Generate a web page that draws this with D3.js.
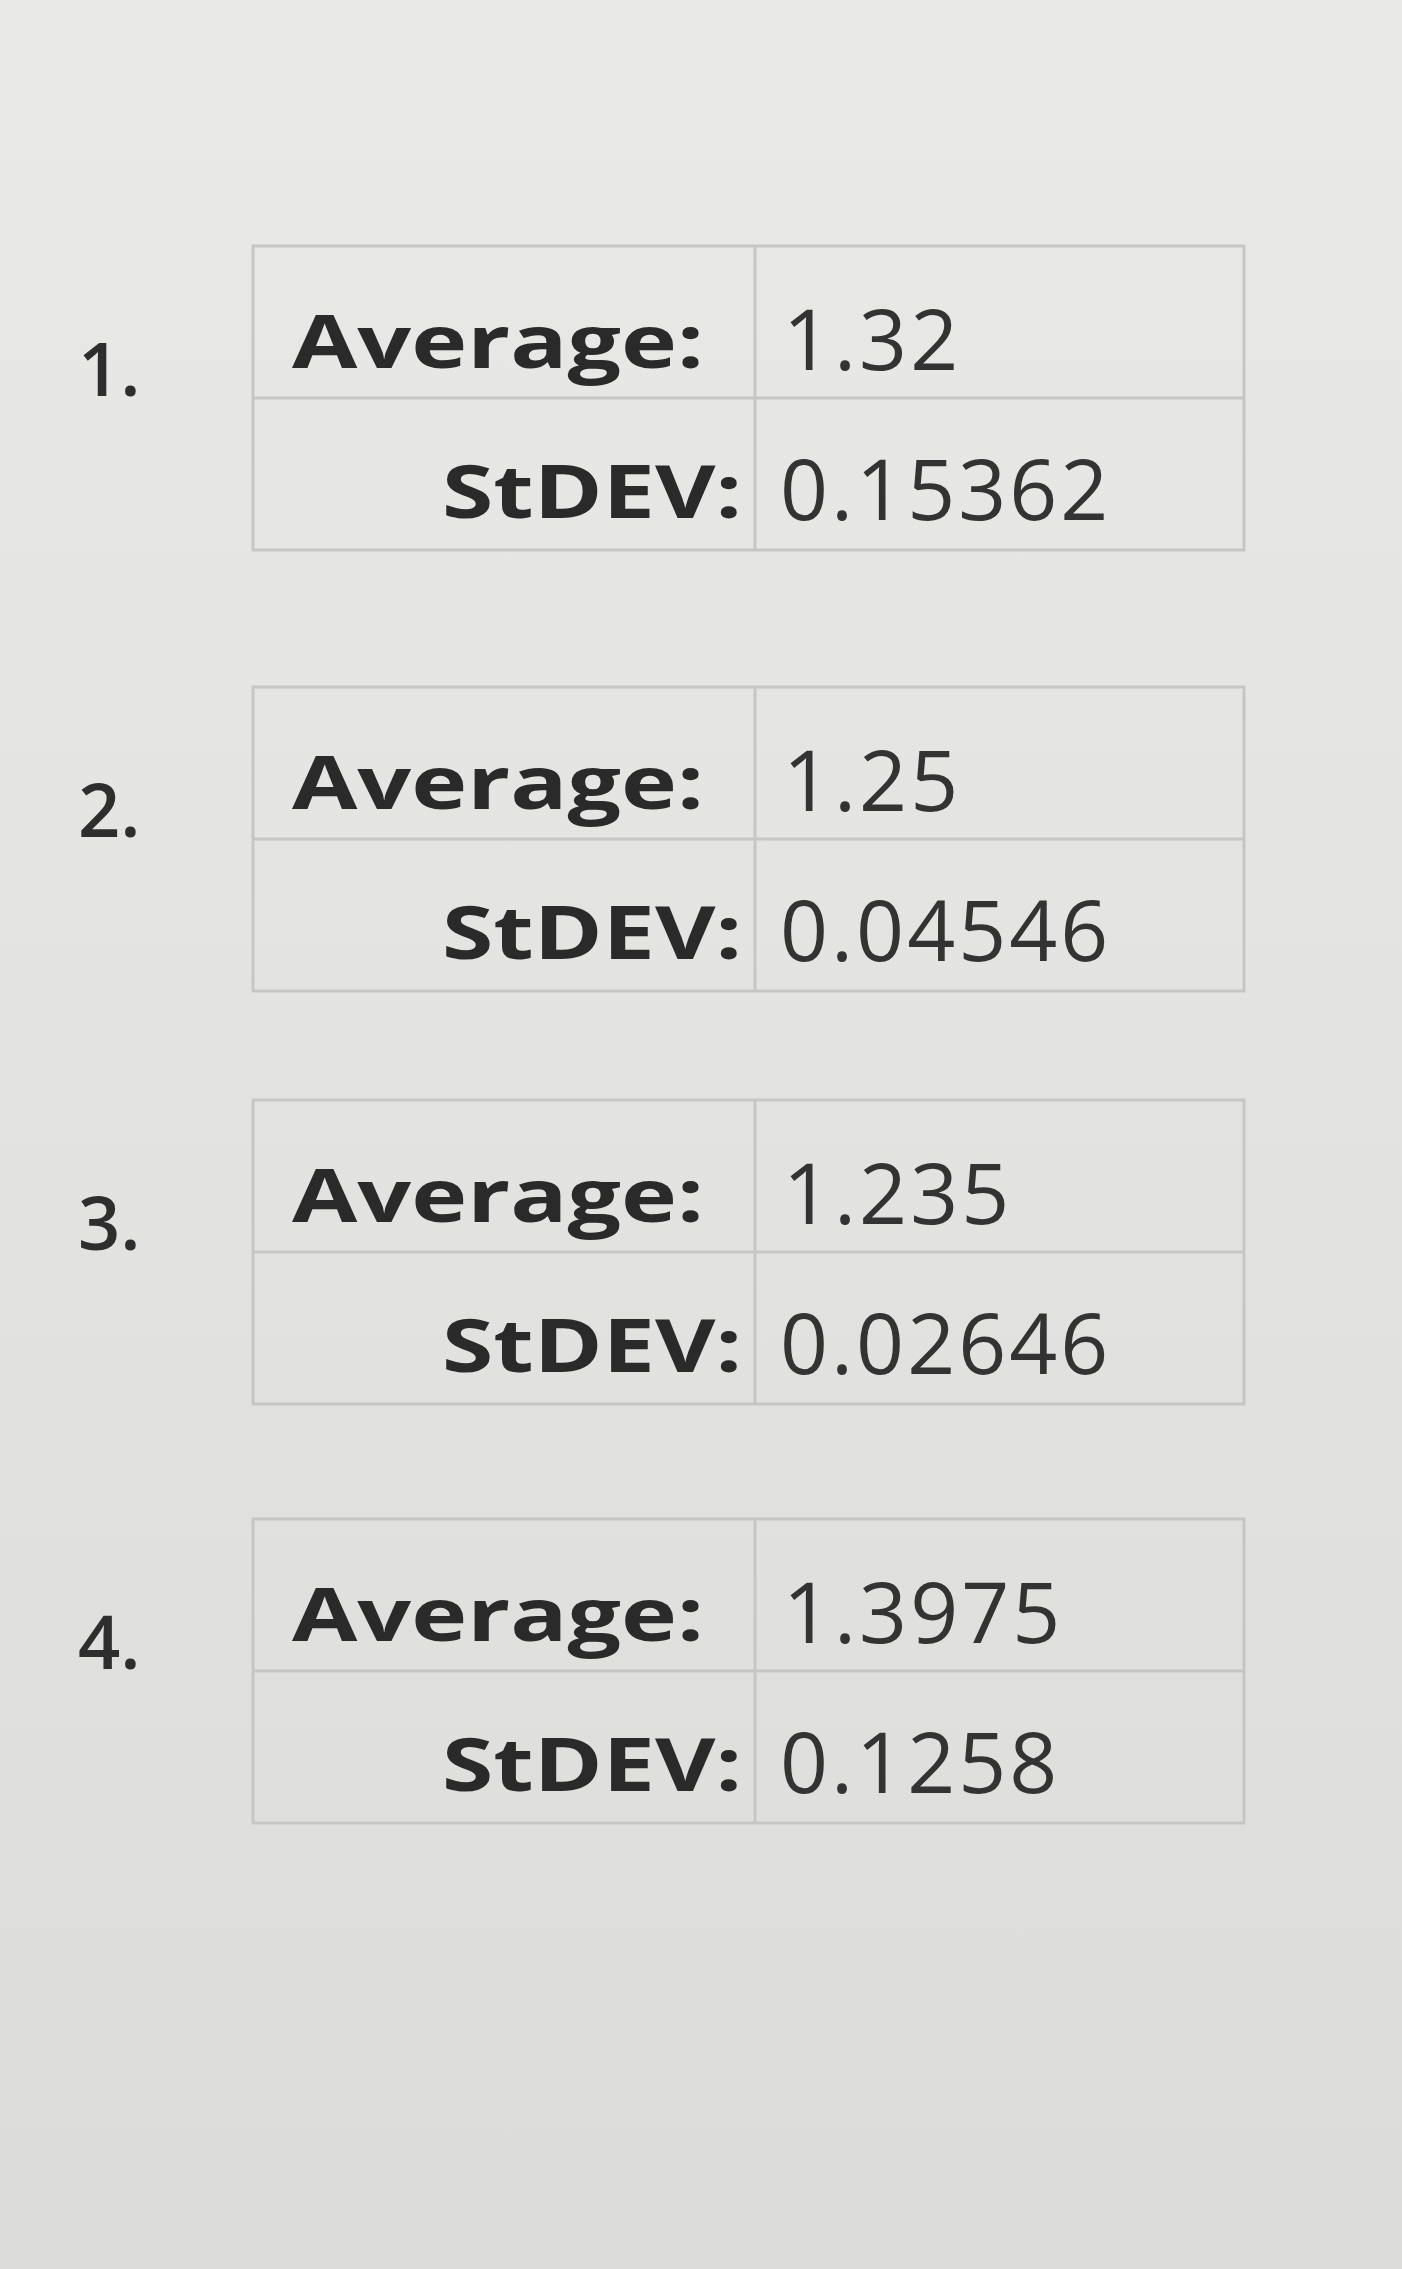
<!DOCTYPE html>
<html><head><meta charset="utf-8">
<script src="https://cdn.jsdelivr.net/npm/d3@7"></script>
<style>body{margin:0;background:#e4e4e2}svg{display:block}</style>
</head><body><svg id="c" width="1402" height="2269"></svg>
<script>
// values as read from the sheet
const labels = ['1.', '2.', '3.', '4.']
const averages = ['1.32', '1.25', '1.235', '1.3975']
const stdevs = ['0.15362', '0.04546', '0.02646', '0.1258']
const tableTops = [246, 687, 1100, 1519]

const svg = d3.select('#c')
const defs = svg.append('defs')
const g = defs.append('linearGradient').attr('id', 'bg').attr('x1', 0).attr('y1', 0).attr('x2', 0).attr('y2', 1)
g.append('stop').attr('offset', 0).attr('stop-color', '#e9e9e8')
g.append('stop').attr('offset', 1).attr('stop-color', '#dcdcdb')
svg.append('rect').attr('width', 1402).attr('height', 2269).attr('fill', 'url(#bg)')

const x = d3.scaleLinear().domain([0, 1]).range([253, 1244])
const divX = 755
const rowH = 152
const font = 'Open Sans, Liberation Sans, sans-serif'

const tables = svg.selectAll('g.t').data(labels.map((l, i) => ({l, a: averages[i], s: stdevs[i], top: tableTops[i]})))
    .join('g').attr('class', 't').attr('transform', d => `translate(0,${d.top})`)

tables.append('rect').attr('x', x(0)).attr('y', 0).attr('width', x(1) - x(0)).attr('height', rowH * 2)
    .attr('fill', 'none').attr('stroke', '#c6c6c4').attr('stroke-width', 3)
tables.append('line').attr('x1', x(0)).attr('x2', x(1)).attr('y1', rowH).attr('y2', rowH)
    .attr('stroke', '#c6c6c4').attr('stroke-width', 3)
tables.append('line').attr('x1', divX).attr('x2', divX).attr('y1', 0).attr('y2', rowH * 2)
    .attr('stroke', '#c6c6c4').attr('stroke-width', 3)

tables.append('text').text(d => d.l).attr('x', 78).attr('y', 150)
    .attr('font-family', font).attr('font-size', 74).attr('font-weight', 600).attr('fill', '#2e2e2e')
tables.append('text').text('Average:').attr('x', 292).attr('y', 122)
    .attr('font-family', font).attr('font-size', 74).attr('font-weight', 700).attr('fill', '#2a2a2a')
    .attr('textLength', 412).attr('lengthAdjust', 'spacingAndGlyphs')
tables.append('text').text('StDEV:').attr('x', 742).attr('y', 272).attr('text-anchor', 'end')
    .attr('font-family', font).attr('font-size', 74).attr('font-weight', 700).attr('fill', '#2a2a2a')
    .attr('textLength', 300).attr('lengthAdjust', 'spacingAndGlyphs')
tables.append('text').text(d => d.a).attr('x', 783).attr('y', 124)
    .attr('font-family', font).attr('font-size', 84).attr('font-weight', 500).attr('letter-spacing', 3).attr('fill', '#333')
tables.append('text').text(d => d.s).attr('x', 780).attr('y', 274)
    .attr('font-family', font).attr('font-size', 84).attr('font-weight', 500).attr('letter-spacing', 3).attr('fill', '#333')
</script></body></html>
